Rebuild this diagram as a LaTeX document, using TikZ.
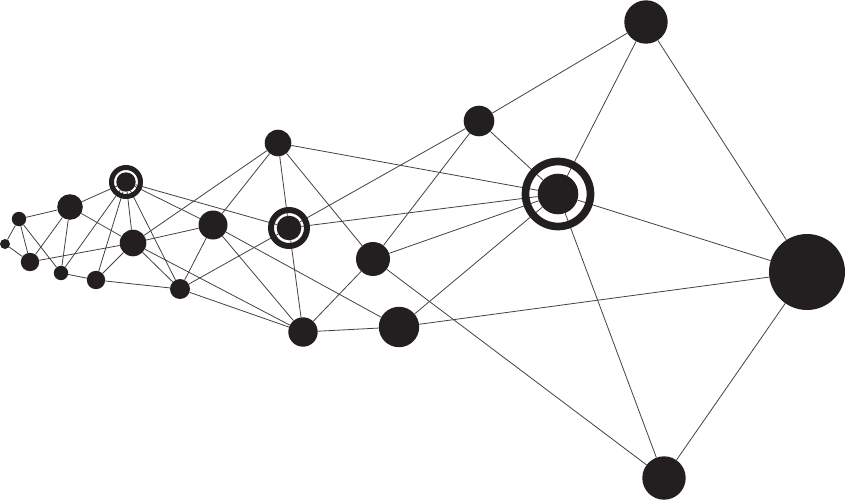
\documentclass[tikz,border=0pt]{standalone}
\definecolor{ink}{HTML}{231F20}
\tikzset{
  dot/.style={circle,fill=ink,draw=none,inner sep=0pt,minimum size=#1},
  link/.style={draw=ink!85,line width=0.8pt},
  ring/.style={draw=ink,fill=none}
}
\begin{document}
\begin{tikzpicture}[x=1pt,y=-1pt]
\useasboundingbox (0,0) rectangle (846,500);
% nodes
\node[dot=10pt]   (A) at (5,244) {};
\node[dot=14.4pt] (B) at (19,219) {};
\node[dot=18.4pt] (C) at (30,262) {};
\node[dot=14.4pt] (D) at (61,273) {};
\node[dot=25.6pt] (E) at (70,207) {};
\node[dot=18.4pt] (F) at (96,280) {};
\node[dot=19.4pt] (G) at (126,182) {};
\node[dot=26.6pt] (H) at (133,243) {};
\node[dot=20pt]   (I) at (180,289) {};
\node[dot=29pt]   (J) at (213,225) {};
\node[dot=26.6pt] (K) at (278,143) {};
\node[dot=24.6pt] (L) at (289,228) {};
\node[dot=29.4pt] (M) at (303,332) {};
\node[dot=34pt]   (N) at (373,259) {};
\node[dot=40.4pt] (O) at (399,327) {};
\node[dot=30.6pt] (P) at (479,121) {};
\node[dot=40.6pt] (Q) at (558,194) {};
\node[dot=43.4pt] (R) at (646,22) {};
\node[dot=76pt]   (S) at (807,272) {};
\node[dot=43.4pt] (T) at (664,478) {};
% connectors
\foreach \a/\b in {A/B,A/C,B/C,B/D,B/E,C/E,C/H,D/E,D/F,D/G,E/G,E/H,F/G,F/H,F/I,
  G/H,G/I,G/J,G/L,H/I,H/J,H/K,H/M,I/J,I/L,I/M,J/K,J/M,J/O,K/L,K/N,K/Q,L/M,L/P,L/Q,
  M/N,M/O,N/P,N/Q,N/T,O/Q,O/S,P/Q,P/R,Q/R,Q/S,Q/T,R/S,S/T}
  \draw[link] (\a) -- (\b);
% rings
\draw[ring,line width=5pt] (G.center) circle[radius=14.5];
\draw[ring,line width=6pt] (L.center) circle[radius=18];
\draw[ring,line width=7.7pt] (Q.center) circle[radius=32.5];
\end{tikzpicture}
\end{document}
